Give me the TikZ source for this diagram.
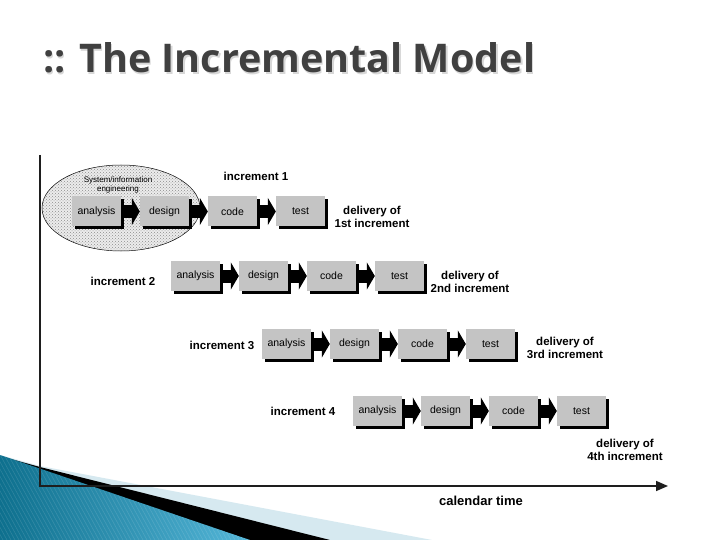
\documentclass[tikz,border=0pt]{standalone}
\usepackage{fontspec}
\setmainfont{Liberation Sans}
\newfontfamily\titlefont{Open Sans}
\usetikzlibrary{arrows.meta,shadows,shapes.geometric,patterns}
\definecolor{boxgray}{RGB}{196,196,196}
\definecolor{titlegray}{RGB}{64,64,64}
\definecolor{titleshadow}{RGB}{215,215,215}
\definecolor{blueA}{RGB}{14,112,142}
\definecolor{blueB}{RGB}{84,182,216}
\definecolor{lightblue}{RGB}{214,233,240}
\definecolor{axiscol}{RGB}{30,30,30}
\begin{document}
\begin{tikzpicture}[x=1pt,y=-1pt,
  phase/.style={fill=boxgray, minimum width=49pt, minimum height=30pt, inner sep=0pt,
    font=\fontsize{10.5}{12}\selectfont,
    general shadow={fill=black, shadow xshift=3pt, shadow yshift=-3pt}},
  flow/.style={line width=13pt, -{Triangle[length=8pt,width=27pt]}, black},
  inclabel/.style={font=\fontsize{11.5}{13}\selectfont\bfseries, inner sep=0pt},
  delivlabel/.style={font=\fontsize{11.5}{13}\selectfont\bfseries, align=center, inner sep=0pt},
  titletext/.style={anchor=base west, font=\titlefont\bfseries\fontsize{39.5}{44}\selectfont, inner sep=0pt},
]
\useasboundingbox (0,0) rectangle (720,540);
\fill[white] (0,0) rectangle (720,540);

% bottom-left decoration
\fill[lightblue] (0,455) -- (40,466) -- (432,540) -- (0,540) -- cycle;
\fill[black] (0,456) -- (40,467) -- (330,540) -- (0,540) -- cycle;
\shade[left color=blueA, right color=blueB] (0,455) -- (250,540) -- (0,540) -- cycle;
\begin{scope}
  \clip (0,455) -- (250,540) -- (0,540) -- cycle;
  \foreach \i in {-100,-96,...,280} \draw[white, opacity=0.12, line width=0.6pt] (\i,440) -- ++(55,100);
\end{scope}

% title
\node[titletext, text=titleshadow] (titleshd) at (44.5,74.5) {:: The Incremental Model};
\node[titletext, text=titlegray] (title) at (43,73) {:: The Incremental Model};

% system / information engineering ellipse
\node[ellipse, draw=black, line width=0.5pt, fill=gray!15, minimum width=158pt, minimum height=86pt,
  postaction={pattern=crosshatch dots, pattern color=gray!90}] (sie) at (121,208) {};
\node[font=\fontsize{8}{9}\selectfont, align=center, inner sep=0pt] (sietext) at (118,185) {System/information\\engineering};

% increments
\foreach \r/\x/\y in {1/72/211.5, 2/171/276, 3/262/344, 4/353/411} {
  \node[phase] (a\r) at (\x+24.5,\y) {analysis};
  \node[phase] (d\r) at (\x+92.5,\y) {design};
  \node[phase] (c\r) at (\x+160.5,\y) {code};
  \node[phase] (t\r) at (\x+228.5,\y) {test};
  \draw[flow] (a\r) -- (d\r);
  \draw[flow] (d\r) -- (c\r);
  \draw[flow] (c\r) -- (t\r);
}

\node[inclabel] (inc1) at (256,176) {increment 1};
\node[inclabel] (inc2) at (123,281) {increment 2};
\node[inclabel] (inc3) at (222,345) {increment 3};
\node[inclabel] (inc4) at (303,411) {increment 4};

\node[delivlabel] (del1) at (372,216.5) {delivery of\\1st increment};
\node[delivlabel] (del2) at (470,282) {delivery of\\2nd increment};
\node[delivlabel] (del3) at (565,348) {delivery of\\3rd increment};
\node[delivlabel] (del4) at (625,450) {delivery of\\4th increment};

% axes
\coordinate (ytop) at (40,155);
\coordinate (orig) at (40,486);
\coordinate (xend) at (668,486);
\draw[axiscol, line width=1.6pt, -{Triangle[length=12pt,width=10pt]}] (ytop) -- (orig) -- (xend);
\node[font=\fontsize{13}{15}\selectfont\bfseries, inner sep=0pt] (caltime) at (481,501) {calendar time};
\end{tikzpicture}
\end{document}
